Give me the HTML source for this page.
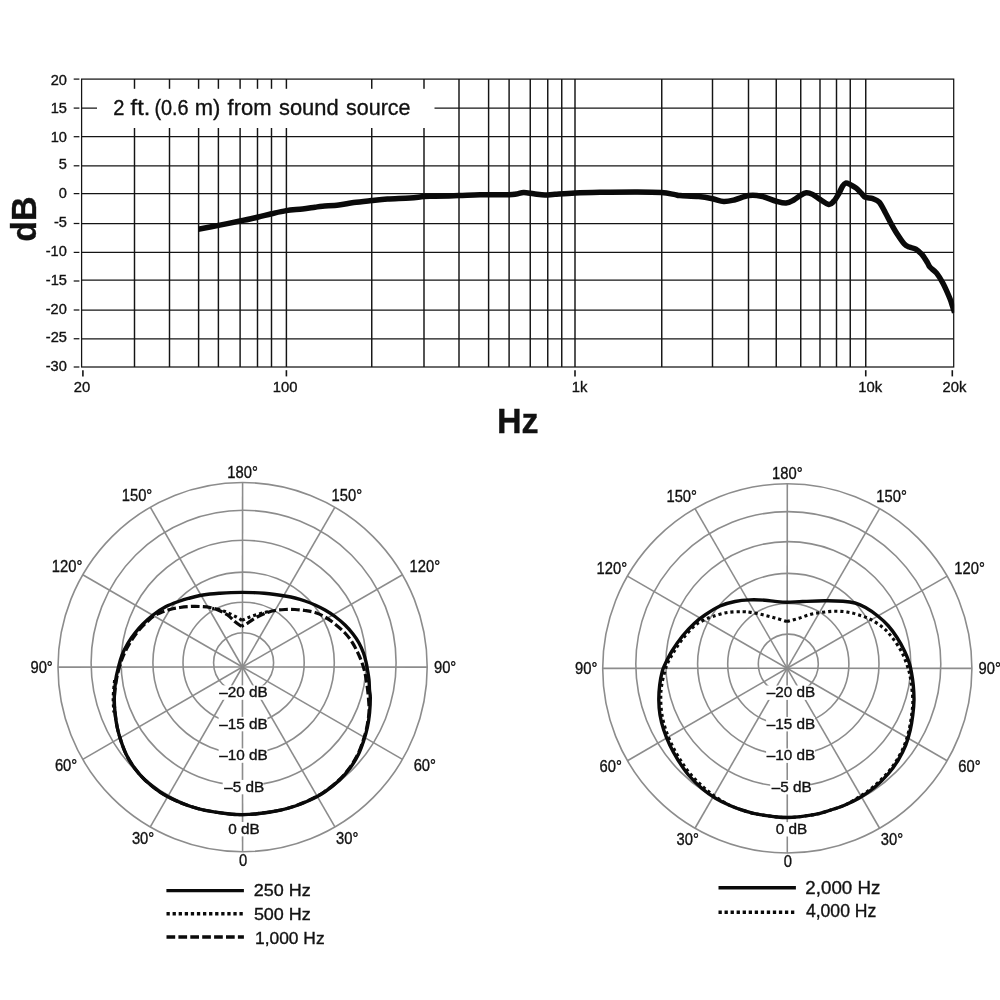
<!DOCTYPE html>
<html><head><meta charset="utf-8"><title>Frequency response and polar patterns</title>
<style>html,body{margin:0;padding:0;background:#fff}svg{display:block}text{stroke:#111;stroke-width:.35px;paint-order:stroke}</style></head>
<body><svg width="1000" height="1000" viewBox="0 0 1000 1000">
<rect width="1000" height="1000" fill="#fff"/>
<g stroke="#141414" stroke-width="1.25" fill="none">
<rect x="81.60" y="79.10" width="872.10" height="287.90"/>
<line x1="81.60" y1="108.10" x2="953.70" y2="108.10"/>
<line x1="81.60" y1="136.70" x2="953.70" y2="136.70"/>
<line x1="81.60" y1="165.80" x2="953.70" y2="165.80"/>
<line x1="81.60" y1="193.60" x2="953.70" y2="193.60"/>
<line x1="81.60" y1="223.50" x2="953.70" y2="223.50"/>
<line x1="81.60" y1="252.40" x2="953.70" y2="252.40"/>
<line x1="81.60" y1="280.00" x2="953.70" y2="280.00"/>
<line x1="81.60" y1="310.00" x2="953.70" y2="310.00"/>
<line x1="81.60" y1="338.75" x2="953.70" y2="338.75"/>
<line x1="134.50" y1="79.10" x2="134.50" y2="367.00" stroke-width="1.45"/>
<line x1="169.50" y1="79.10" x2="169.50" y2="367.00" stroke-width="1.45"/>
<line x1="198.60" y1="79.10" x2="198.60" y2="367.00" stroke-width="1.45"/>
<line x1="218.40" y1="79.10" x2="218.40" y2="367.00" stroke-width="1.45"/>
<line x1="240.10" y1="79.10" x2="240.10" y2="367.00" stroke-width="1.45"/>
<line x1="257.50" y1="79.10" x2="257.50" y2="367.00" stroke-width="1.45"/>
<line x1="271.50" y1="79.10" x2="271.50" y2="367.00" stroke-width="1.45"/>
<line x1="286.40" y1="79.10" x2="286.40" y2="367.00" stroke-width="1.45"/>
<line x1="371.75" y1="79.10" x2="371.75" y2="367.00" stroke-width="1.45"/>
<line x1="424.00" y1="79.10" x2="424.00" y2="367.00" stroke-width="1.45"/>
<line x1="459.00" y1="79.10" x2="459.00" y2="367.00" stroke-width="1.45"/>
<line x1="488.60" y1="79.10" x2="488.60" y2="367.00" stroke-width="1.45"/>
<line x1="509.10" y1="79.10" x2="509.10" y2="367.00" stroke-width="1.45"/>
<line x1="530.25" y1="79.10" x2="530.25" y2="367.00" stroke-width="1.45"/>
<line x1="547.75" y1="79.10" x2="547.75" y2="367.00" stroke-width="1.45"/>
<line x1="561.75" y1="79.10" x2="561.75" y2="367.00" stroke-width="1.45"/>
<line x1="575.00" y1="79.10" x2="575.00" y2="367.00" stroke-width="1.45"/>
<line x1="661.75" y1="79.10" x2="661.75" y2="367.00" stroke-width="1.45"/>
<line x1="712.50" y1="79.10" x2="712.50" y2="367.00" stroke-width="1.45"/>
<line x1="748.50" y1="79.10" x2="748.50" y2="367.00" stroke-width="1.45"/>
<line x1="776.25" y1="79.10" x2="776.25" y2="367.00" stroke-width="1.45"/>
<line x1="800.75" y1="79.10" x2="800.75" y2="367.00" stroke-width="1.45"/>
<line x1="820.00" y1="79.10" x2="820.00" y2="367.00" stroke-width="1.45"/>
<line x1="836.50" y1="79.10" x2="836.50" y2="367.00" stroke-width="1.45"/>
<line x1="850.25" y1="79.10" x2="850.25" y2="367.00" stroke-width="1.45"/>
<line x1="865.75" y1="79.10" x2="865.75" y2="367.00" stroke-width="1.45"/>
<line x1="73.7" y1="79.10" x2="79.4" y2="79.10"/>
<line x1="73.7" y1="108.10" x2="79.4" y2="108.10"/>
<line x1="73.7" y1="136.70" x2="79.4" y2="136.70"/>
<line x1="73.7" y1="165.80" x2="79.4" y2="165.80"/>
<line x1="73.7" y1="193.60" x2="79.4" y2="193.60"/>
<line x1="73.7" y1="223.50" x2="79.4" y2="223.50"/>
<line x1="73.7" y1="252.40" x2="79.4" y2="252.40"/>
<line x1="73.7" y1="281.00" x2="79.4" y2="281.00"/>
<line x1="73.7" y1="310.00" x2="79.4" y2="310.00"/>
<line x1="73.7" y1="338.75" x2="79.4" y2="338.75"/>
<line x1="73.7" y1="367.00" x2="79.4" y2="367.00"/>
<line x1="82.90" y1="370.2" x2="82.90" y2="376.4" stroke-width="1.6"/>
<line x1="286.40" y1="370.2" x2="286.40" y2="376.4" stroke-width="1.6"/>
<line x1="575.00" y1="370.2" x2="575.00" y2="376.4" stroke-width="1.6"/>
<line x1="865.75" y1="370.2" x2="865.75" y2="376.4" stroke-width="1.6"/>
<line x1="952.30" y1="370.2" x2="952.30" y2="376.4" stroke-width="1.6"/>
</g>
<rect x="97" y="88.8" width="337.5" height="39.2" fill="#fff"/>
<text x="113.20" y="115" font-family='"Liberation Sans", Arial, sans-serif' font-size="21.6" textLength="11.20" lengthAdjust="spacingAndGlyphs" fill="#111">2</text>
<text x="130.60" y="115" font-family='"Liberation Sans", Arial, sans-serif' font-size="21.6" textLength="19.60" lengthAdjust="spacingAndGlyphs" fill="#111">ft.</text>
<text x="154.40" y="115" font-family='"Liberation Sans", Arial, sans-serif' font-size="21.6" textLength="34.20" lengthAdjust="spacingAndGlyphs" fill="#111">(0.6</text>
<text x="194.80" y="115" font-family='"Liberation Sans", Arial, sans-serif' font-size="21.6" textLength="25.60" lengthAdjust="spacingAndGlyphs" fill="#111">m)</text>
<text x="227.60" y="115" font-family='"Liberation Sans", Arial, sans-serif' font-size="21.6" textLength="44.00" lengthAdjust="spacingAndGlyphs" fill="#111">from</text>
<text x="279.00" y="115" font-family='"Liberation Sans", Arial, sans-serif' font-size="21.6" textLength="59.60" lengthAdjust="spacingAndGlyphs" fill="#111">sound</text>
<text x="346.00" y="115" font-family='"Liberation Sans", Arial, sans-serif' font-size="21.6" textLength="64.60" lengthAdjust="spacingAndGlyphs" fill="#111">source</text>
<text transform="translate(50.64 85.40)" font-family='"Liberation Sans", Arial, sans-serif' font-size="14.60" fill="#111">20</text>
<text transform="translate(50.68 113.40)" font-family='"Liberation Sans", Arial, sans-serif' font-size="14.60" fill="#111">15</text>
<text transform="translate(50.64 141.60)" font-family='"Liberation Sans", Arial, sans-serif' font-size="14.60" fill="#111">10</text>
<text transform="translate(58.78 169.40)" font-family='"Liberation Sans", Arial, sans-serif' font-size="14.60" fill="#111">5</text>
<text transform="translate(58.74 197.90)" font-family='"Liberation Sans", Arial, sans-serif' font-size="14.60" fill="#111">0</text>
<text transform="translate(53.93 227.40)" font-family='"Liberation Sans", Arial, sans-serif' font-size="14.60" fill="#111">-5</text>
<text transform="translate(45.75 256.20)" font-family='"Liberation Sans", Arial, sans-serif' font-size="14.60" fill="#111">-10</text>
<text transform="translate(45.79 284.50)" font-family='"Liberation Sans", Arial, sans-serif' font-size="14.60" fill="#111">-15</text>
<text transform="translate(45.75 313.80)" font-family='"Liberation Sans", Arial, sans-serif' font-size="14.60" fill="#111">-20</text>
<text transform="translate(45.79 342.40)" font-family='"Liberation Sans", Arial, sans-serif' font-size="14.60" fill="#111">-25</text>
<text transform="translate(45.75 370.90)" font-family='"Liberation Sans", Arial, sans-serif' font-size="14.60" fill="#111">-30</text>
<text x="82.00" y="392.0" text-anchor="middle" font-family='"Liberation Sans", Arial, sans-serif' font-size="14.8" fill="#111">20</text>
<text x="285.20" y="392.0" text-anchor="middle" font-family='"Liberation Sans", Arial, sans-serif' font-size="14.8" fill="#111">100</text>
<text x="579.60" y="392.0" text-anchor="middle" font-family='"Liberation Sans", Arial, sans-serif' font-size="14.8" fill="#111">1k</text>
<text x="870.30" y="392.0" text-anchor="middle" font-family='"Liberation Sans", Arial, sans-serif' font-size="14.8" fill="#111">10k</text>
<text x="954.40" y="392.0" text-anchor="middle" font-family='"Liberation Sans", Arial, sans-serif' font-size="14.8" fill="#111">20k</text>
<text transform="translate(496.90 433.00) scale(0.9700 1)" font-family='"Liberation Sans", Arial, sans-serif' font-size="35.20" font-weight="bold" fill="#111">Hz</text>
<text transform="translate(35.85 219.2) rotate(-90) scale(0.97 1)" text-anchor="middle" font-family='"Liberation Sans", Arial, sans-serif' font-weight="bold" font-size="35" fill="#111">dB</text>
<clipPath id="cc"><rect x="198" y="70" width="756.20" height="310"/></clipPath>
<path d="M198.10 229.40 C201.50 228.73 211.52 226.80 218.50 225.40 C225.48 224.00 233.50 222.36 240.00 221.00 C246.50 219.64 252.25 218.46 257.50 217.25 C262.75 216.04 266.71 214.86 271.50 213.75 C276.29 212.64 281.08 211.39 286.25 210.60 C291.42 209.81 297.71 209.57 302.50 209.00 C307.29 208.43 311.67 207.66 315.00 207.20 C318.33 206.74 318.54 206.62 322.50 206.25 C326.46 205.88 333.54 205.62 338.75 205.00 C343.96 204.38 348.33 203.23 353.75 202.50 C359.17 201.77 365.62 201.17 371.25 200.60 C376.88 200.03 381.04 199.52 387.50 199.10 C393.96 198.68 403.96 198.52 410.00 198.10 C416.04 197.68 419.58 196.91 423.75 196.60 C427.92 196.29 429.17 196.42 435.00 196.25 C440.83 196.08 451.25 195.85 458.75 195.60 C466.25 195.35 471.67 194.89 480.00 194.75 C488.33 194.61 502.71 194.88 508.75 194.75 C514.79 194.62 513.75 194.38 516.25 194.00 C518.75 193.62 520.83 192.54 523.75 192.50 C526.67 192.46 530.21 193.33 533.75 193.75 C537.29 194.17 541.46 194.93 545.00 195.00 C548.54 195.07 550.00 194.55 555.00 194.20 C560.00 193.85 567.50 193.22 575.00 192.90 C582.50 192.58 589.58 192.42 600.00 192.25 C610.42 192.08 627.29 191.86 637.50 191.90 C647.71 191.94 655.00 192.05 661.25 192.50 C667.50 192.95 671.88 194.08 675.00 194.60 C678.12 195.12 676.04 195.27 680.00 195.60 C683.96 195.93 693.33 196.07 698.75 196.60 C704.17 197.12 708.33 197.93 712.50 198.75 C716.67 199.57 720.00 201.33 723.75 201.50 C727.50 201.67 730.83 200.73 735.00 199.75 C739.17 198.77 744.38 196.18 748.75 195.60 C753.12 195.02 756.67 195.31 761.25 196.25 C765.83 197.19 772.12 200.11 776.25 201.25 C780.38 202.39 783.08 203.31 786.00 203.10 C788.92 202.89 791.42 201.25 793.75 200.00 C796.08 198.75 797.92 196.81 800.00 195.60 C802.08 194.39 804.17 192.95 806.25 192.75 C808.33 192.55 810.21 193.29 812.50 194.40 C814.79 195.51 817.29 197.73 820.00 199.40 C822.71 201.07 826.46 204.09 828.75 204.40 C831.04 204.71 832.08 203.03 833.75 201.25 C835.42 199.47 837.29 196.25 838.75 193.75 C840.21 191.25 841.36 188.03 842.50 186.25 C843.64 184.47 844.35 183.41 845.60 183.10 C846.85 182.79 848.23 183.57 850.00 184.40 C851.77 185.23 854.38 186.65 856.25 188.10 C858.12 189.55 859.73 191.57 861.25 193.10 C862.77 194.63 863.48 196.37 865.40 197.30 C867.32 198.23 870.50 197.88 872.80 198.70 C875.10 199.52 877.08 199.82 879.20 202.20 C881.32 204.58 883.50 209.40 885.50 213.00 C887.50 216.60 889.17 220.17 891.20 223.80 C893.23 227.43 895.53 231.45 897.70 234.80 C899.87 238.15 902.25 241.85 904.20 243.90 C906.15 245.95 907.47 246.23 909.40 247.10 C911.33 247.97 913.65 247.80 915.80 249.10 C917.95 250.40 920.35 252.63 922.30 254.90 C924.25 257.17 926.20 260.63 927.50 262.70 C928.80 264.77 928.58 265.57 930.10 267.30 C931.62 269.03 934.43 270.40 936.60 273.10 C938.77 275.80 940.93 279.38 943.10 283.50 C945.27 287.62 948.03 294.02 949.60 297.80 C951.17 301.58 951.67 303.73 952.50 306.20 C953.33 308.67 954.25 311.53 954.60 312.60" fill="none" stroke="#0a0a0a" stroke-width="5.5" stroke-linejoin="round" clip-path="url(#cc)"/>
<g stroke="#8c8c8c" stroke-width="1.6" fill="none">
<circle cx="242.60" cy="667.10" r="184.60"/>
<circle cx="243.60" cy="662.80" r="30.00"/>
<circle cx="243.60" cy="662.80" r="60.60"/>
<circle cx="243.60" cy="662.80" r="90.70"/>
<circle cx="243.60" cy="662.80" r="122.50"/>
<circle cx="243.60" cy="662.80" r="152.50"/>
<line x1="242.40" y1="667.00" x2="427.20" y2="667.10"/>
<line x1="242.40" y1="667.00" x2="402.47" y2="759.40"/>
<line x1="242.40" y1="667.00" x2="334.90" y2="826.97"/>
<line x1="242.40" y1="667.00" x2="242.60" y2="851.70"/>
<line x1="242.40" y1="667.00" x2="150.30" y2="826.97"/>
<line x1="242.40" y1="667.00" x2="82.73" y2="759.40"/>
<line x1="242.40" y1="667.00" x2="58.00" y2="667.10"/>
<line x1="242.40" y1="667.00" x2="82.73" y2="574.80"/>
<line x1="242.40" y1="667.00" x2="150.30" y2="507.23"/>
<line x1="242.40" y1="667.00" x2="242.60" y2="482.50"/>
<line x1="242.40" y1="667.00" x2="334.90" y2="507.23"/>
<line x1="242.40" y1="667.00" x2="402.47" y2="574.80"/>
</g>
<rect x="218.40" y="685.40" width="49.20" height="14.40" fill="#fff"/>
<rect x="218.60" y="716.90" width="48.80" height="14.40" fill="#fff"/>
<rect x="218.60" y="748.40" width="48.80" height="14.40" fill="#fff"/>
<rect x="222.70" y="779.90" width="40.60" height="14.40" fill="#fff"/>
<rect x="226.80" y="822.00" width="32.40" height="14.40" fill="#fff"/>
<path d="M241.40 626.40 C240.30 625.60 237.10 623.50 234.80 621.60 C232.50 619.70 230.40 616.93 227.60 615.00 C224.80 613.07 220.93 611.25 218.00 610.00 C215.07 608.75 213.00 608.08 210.00 607.50 C207.00 606.92 203.33 606.67 200.00 606.50 C196.67 606.33 193.33 606.33 190.00 606.50 C186.67 606.67 183.33 607.00 180.00 607.50 C176.67 608.00 173.33 608.58 170.00 609.50 C166.67 610.42 162.67 611.92 160.00 613.00 C157.33 614.08 156.00 614.67 154.00 616.00 C152.00 617.33 150.33 618.83 148.00 621.00 C145.67 623.17 142.50 626.17 140.00 629.00 C137.50 631.83 135.17 634.83 133.00 638.00 C130.83 641.17 128.70 644.83 127.00 648.00 C125.30 651.17 124.07 653.83 122.80 657.00 C121.53 660.17 120.47 663.17 119.40 667.00 C118.33 670.83 117.25 674.92 116.40 680.00 C115.55 685.08 114.53 692.08 114.30 697.50 C114.07 702.92 114.51 707.50 115.00 712.50 C115.49 717.50 116.25 722.75 117.25 727.50 C118.25 732.25 119.50 736.50 121.00 741.00 C122.50 745.50 124.00 750.00 126.25 754.50 C128.50 759.00 131.38 763.75 134.50 768.00 C137.62 772.25 140.75 776.00 145.00 780.00 C149.25 784.00 155.00 788.62 160.00 792.00 C165.00 795.38 170.00 797.88 175.00 800.25 C180.00 802.62 185.00 804.58 190.00 806.25 C195.00 807.92 198.75 809.05 205.00 810.30 C211.25 811.55 221.30 813.03 227.50 813.75 C233.70 814.47 237.37 814.60 242.20 814.60 C247.03 814.60 250.37 814.47 256.50 813.75 C262.63 813.03 272.75 811.55 279.00 810.30 C285.25 809.05 289.00 807.92 294.00 806.25 C299.00 804.58 304.00 802.62 309.00 800.25 C314.00 797.88 319.00 795.38 324.00 792.00 C329.00 788.62 334.75 784.00 339.00 780.00 C343.25 776.00 346.37 772.25 349.50 768.00 C352.62 763.75 355.50 759.00 357.75 754.50 C360.00 750.00 361.50 745.50 363.00 741.00 C364.50 736.50 365.75 732.25 366.75 727.50 C367.75 722.75 368.69 717.10 369.00 712.50 C369.31 707.90 368.87 703.98 368.60 699.90 C368.33 695.82 367.85 691.65 367.40 688.00 C366.95 684.35 366.47 681.17 365.90 678.00 C365.33 674.83 364.82 672.00 364.00 669.00 C363.18 666.00 362.17 663.00 361.00 660.00 C359.83 657.00 358.50 654.00 357.00 651.00 C355.50 648.00 354.00 645.00 352.00 642.00 C350.00 639.00 347.83 636.00 345.00 633.00 C342.17 630.00 338.33 626.67 335.00 624.00 C331.67 621.33 328.33 618.92 325.00 617.00 C321.67 615.08 318.33 613.58 315.00 612.50 C311.67 611.42 308.33 611.00 305.00 610.50 C301.67 610.00 298.33 609.67 295.00 609.50 C291.67 609.33 288.33 609.33 285.00 609.50 C281.67 609.67 278.17 609.92 275.00 610.50 C271.83 611.08 269.10 611.85 266.00 613.00 C262.90 614.15 259.40 615.77 256.40 617.40 C253.40 619.03 250.50 621.30 248.00 622.80 C245.50 624.30 242.50 625.80 241.40 626.40" fill="none" stroke="#0a0a0a" stroke-width="3.2" stroke-dasharray="8.7 3.2"/>
<path d="M242.00 620.40 C241.03 619.82 238.20 618.00 236.20 616.90 C234.20 615.80 232.00 614.73 230.00 613.80 C228.00 612.87 226.20 612.05 224.20 611.30 C222.20 610.55 220.00 609.80 218.00 609.30 C216.00 608.80 213.17 608.47 212.20 608.30" fill="none" stroke="#0a0a0a" stroke-width="3.1" stroke-dasharray="3.1 2.98"/>
<path d="M242.00 620.40 C243.03 619.93 245.80 618.55 248.20 617.60 C250.60 616.65 253.73 615.53 256.40 614.70 C259.07 613.87 261.90 613.17 264.20 612.60 C266.50 612.03 269.20 611.52 270.20 611.30" fill="none" stroke="#0a0a0a" stroke-width="3.1" stroke-dasharray="3.1 2.98"/>
<path d="M114.60 680.00 C114.37 682.92 113.32 692.08 113.20 697.50 C113.08 702.92 113.78 710.00 113.90 712.50" fill="none" stroke="#0a0a0a" stroke-width="3.1" stroke-dasharray="3.1 2.98"/>
<path d="M242.20 592.40 C238.53 592.40 234.90 592.47 231.20 592.60 C227.50 592.73 223.53 592.97 220.00 593.20 C216.47 593.43 213.33 593.62 210.00 594.00 C206.67 594.38 203.33 594.83 200.00 595.50 C196.67 596.17 193.33 597.08 190.00 598.00 C186.67 598.92 184.00 599.58 180.00 601.00 C176.00 602.42 170.50 604.17 166.00 606.50 C161.50 608.83 156.83 612.08 153.00 615.00 C149.17 617.92 146.00 621.00 143.00 624.00 C140.00 627.00 137.50 629.83 135.00 633.00 C132.50 636.17 130.17 639.33 128.00 643.00 C125.83 646.67 123.58 651.00 122.00 655.00 C120.42 659.00 119.55 662.83 118.50 667.00 C117.45 671.17 116.40 674.92 115.70 680.00 C115.00 685.08 114.42 692.08 114.30 697.50 C114.18 702.92 114.51 707.50 115.00 712.50 C115.49 717.50 116.25 722.75 117.25 727.50 C118.25 732.25 119.50 736.50 121.00 741.00 C122.50 745.50 124.00 750.00 126.25 754.50 C128.50 759.00 131.38 763.75 134.50 768.00 C137.62 772.25 140.75 776.00 145.00 780.00 C149.25 784.00 155.00 788.62 160.00 792.00 C165.00 795.38 170.00 797.88 175.00 800.25 C180.00 802.62 185.00 804.58 190.00 806.25 C195.00 807.92 198.75 809.05 205.00 810.30 C211.25 811.55 221.30 813.03 227.50 813.75 C233.70 814.47 237.27 814.60 242.20 814.60 C247.13 814.60 250.87 814.47 257.10 813.75 C263.33 813.03 273.35 811.55 279.60 810.30 C285.85 809.05 289.60 807.92 294.60 806.25 C299.60 804.58 304.60 802.62 309.60 800.25 C314.60 797.88 319.60 795.38 324.60 792.00 C329.60 788.62 335.35 784.00 339.60 780.00 C343.85 776.00 346.97 772.25 350.10 768.00 C353.22 763.75 356.10 759.00 358.35 754.50 C360.60 750.00 362.10 745.50 363.60 741.00 C365.10 736.50 366.35 732.25 367.35 727.50 C368.35 722.75 369.11 717.50 369.60 712.50 C370.09 707.50 370.32 701.25 370.30 697.50 C370.28 693.75 369.72 692.92 369.50 690.00 C369.28 687.08 369.33 683.33 369.00 680.00 C368.67 676.67 368.00 673.00 367.50 670.00 C367.00 667.00 366.67 664.83 366.00 662.00 C365.33 659.17 364.67 656.17 363.50 653.00 C362.33 649.83 360.75 646.17 359.00 643.00 C357.25 639.83 355.33 637.00 353.00 634.00 C350.67 631.00 348.00 627.92 345.00 625.00 C342.00 622.08 338.33 619.00 335.00 616.50 C331.67 614.00 328.33 611.92 325.00 610.00 C321.67 608.08 318.33 606.50 315.00 605.00 C311.67 603.50 308.33 602.17 305.00 601.00 C301.67 599.83 298.33 598.83 295.00 598.00 C291.67 597.17 288.33 596.58 285.00 596.00 C281.67 595.42 278.47 594.95 275.00 594.50 C271.53 594.05 267.83 593.62 264.20 593.30 C260.57 592.98 256.87 592.75 253.20 592.60 C249.53 592.45 245.87 592.40 242.20 592.40Z" fill="none" stroke="#0a0a0a" stroke-width="3.4"/>
<text transform="translate(219.15 697.00)" font-family='"Liberation Sans", Arial, sans-serif' font-size="15.30" fill="#111">–20 dB</text>
<text transform="translate(219.15 728.50)" font-family='"Liberation Sans", Arial, sans-serif' font-size="15.30" fill="#111">–15 dB</text>
<text transform="translate(219.15 760.00)" font-family='"Liberation Sans", Arial, sans-serif' font-size="15.30" fill="#111">–10 dB</text>
<text transform="translate(224.30 791.50)" font-family='"Liberation Sans", Arial, sans-serif' font-size="15.30" fill="#111">–5 dB</text>
<text transform="translate(228.26 833.60)" font-family='"Liberation Sans", Arial, sans-serif' font-size="15.30" fill="#111">0 dB</text>
<text transform="translate(227.37 477.55) scale(0.8900 1)" font-family='"Liberation Sans", Arial, sans-serif' font-size="16.60" fill="#111">180°</text>
<text transform="translate(121.72 500.65) scale(0.8900 1)" font-family='"Liberation Sans", Arial, sans-serif' font-size="16.60" fill="#111">150°</text>
<text transform="translate(51.87 572.40) scale(0.8900 1)" font-family='"Liberation Sans", Arial, sans-serif' font-size="16.60" fill="#111">120°</text>
<text transform="translate(30.42 673.15) scale(0.8900 1)" font-family='"Liberation Sans", Arial, sans-serif' font-size="16.60" fill="#111">90°</text>
<text transform="translate(54.90 771.15) scale(0.8900 1)" font-family='"Liberation Sans", Arial, sans-serif' font-size="16.60" fill="#111">60°</text>
<text transform="translate(131.89 843.65) scale(0.8900 1)" font-family='"Liberation Sans", Arial, sans-serif' font-size="16.60" fill="#111">30°</text>
<text transform="translate(238.98 865.65) scale(0.8900 1)" font-family='"Liberation Sans", Arial, sans-serif' font-size="16.60" fill="#111">0</text>
<text transform="translate(331.62 500.65) scale(0.8900 1)" font-family='"Liberation Sans", Arial, sans-serif' font-size="16.60" fill="#111">150°</text>
<text transform="translate(409.62 572.40) scale(0.8900 1)" font-family='"Liberation Sans", Arial, sans-serif' font-size="16.60" fill="#111">120°</text>
<text transform="translate(433.92 673.15) scale(0.8900 1)" font-family='"Liberation Sans", Arial, sans-serif' font-size="16.60" fill="#111">90°</text>
<text transform="translate(413.65 770.65) scale(0.8900 1)" font-family='"Liberation Sans", Arial, sans-serif' font-size="16.60" fill="#111">60°</text>
<text transform="translate(336.09 843.65) scale(0.8900 1)" font-family='"Liberation Sans", Arial, sans-serif' font-size="16.60" fill="#111">30°</text>
<line x1="166.40" y1="890.60" x2="243.90" y2="890.60" stroke="#0a0a0a" stroke-width="3.4"/>
<text transform="translate(253.70 896.00) scale(1.0400 1)" font-family='"Liberation Sans", Arial, sans-serif' font-size="17.30" fill="#111">250 Hz</text>
<line x1="166.50" y1="913.70" x2="243.90" y2="913.70" stroke="#0a0a0a" stroke-width="3.4" stroke-dasharray="3.3 2.78"/>
<text transform="translate(253.88 919.50) scale(1.0400 1)" font-family='"Liberation Sans", Arial, sans-serif' font-size="17.30" fill="#111">500 Hz</text>
<line x1="166.50" y1="937.00" x2="243.90" y2="937.00" stroke="#0a0a0a" stroke-width="3.4" stroke-dasharray="8.7 3.2"/>
<text transform="translate(255.00 943.60)" font-family='"Liberation Sans", Arial, sans-serif' font-size="17.40" fill="#111">1,000 Hz</text>
<g stroke="#8c8c8c" stroke-width="1.6" fill="none">
<circle cx="787.30" cy="668.40" r="184.60"/>
<circle cx="788.30" cy="664.10" r="30.00"/>
<circle cx="788.30" cy="664.10" r="60.60"/>
<circle cx="788.30" cy="664.10" r="90.70"/>
<circle cx="788.30" cy="664.10" r="122.50"/>
<circle cx="788.30" cy="664.10" r="152.50"/>
<line x1="787.10" y1="668.30" x2="971.90" y2="668.40"/>
<line x1="787.10" y1="668.30" x2="947.17" y2="760.70"/>
<line x1="787.10" y1="668.30" x2="879.60" y2="828.27"/>
<line x1="787.10" y1="668.30" x2="787.30" y2="853.00"/>
<line x1="787.10" y1="668.30" x2="695.00" y2="828.27"/>
<line x1="787.10" y1="668.30" x2="627.43" y2="760.70"/>
<line x1="787.10" y1="668.30" x2="602.70" y2="668.40"/>
<line x1="787.10" y1="668.30" x2="627.43" y2="576.10"/>
<line x1="787.10" y1="668.30" x2="695.00" y2="508.53"/>
<line x1="787.10" y1="668.30" x2="787.30" y2="483.80"/>
<line x1="787.10" y1="668.30" x2="879.60" y2="508.53"/>
<line x1="787.10" y1="668.30" x2="947.17" y2="576.10"/>
</g>
<rect x="765.90" y="685.50" width="49.20" height="14.40" fill="#fff"/>
<rect x="766.10" y="717.00" width="48.80" height="14.40" fill="#fff"/>
<rect x="766.10" y="748.50" width="48.80" height="14.40" fill="#fff"/>
<rect x="770.20" y="780.00" width="40.60" height="14.40" fill="#fff"/>
<rect x="774.30" y="822.10" width="32.40" height="14.40" fill="#fff"/>
<path d="M787.00 621.60 C785.00 620.98 779.00 619.03 775.00 617.90 C771.00 616.77 767.00 615.72 763.00 614.80 C759.00 613.88 754.42 612.92 751.00 612.40 C747.58 611.88 746.42 611.68 742.50 611.70 C738.58 611.72 732.50 611.70 727.50 612.50 C722.50 613.30 716.75 615.08 712.50 616.50 C708.25 617.92 705.00 619.45 702.00 621.00 C699.00 622.55 697.75 622.80 694.50 625.80 C691.25 628.80 686.00 634.55 682.50 639.00 C679.00 643.45 676.17 648.00 673.50 652.50 C670.83 657.00 668.47 660.54 666.50 666.00 C664.53 671.46 662.64 679.57 661.69 685.23 C660.74 690.90 660.75 695.08 660.80 700.00 C660.85 704.92 661.17 709.84 661.99 714.76 C662.80 719.69 664.09 724.61 665.69 729.53 C667.30 734.44 669.27 739.36 671.62 744.28 C673.96 749.20 676.67 754.12 679.75 759.03 C682.83 763.95 686.15 769.12 690.09 773.79 C694.03 778.46 699.02 783.15 703.38 787.05 C707.74 790.96 711.73 794.09 716.26 797.20 C720.78 800.31 725.73 803.41 730.52 805.71 C735.31 808.01 740.09 809.52 745.00 811.00 C749.91 812.48 753.00 813.52 760.00 814.60 C767.00 815.68 778.00 817.50 787.00 817.50 C796.00 817.50 806.83 815.81 814.00 814.60 C821.17 813.39 824.84 811.86 830.00 810.25 C835.16 808.64 840.04 807.15 844.95 804.91 C849.87 802.67 854.62 799.95 859.49 796.82 C864.35 793.70 869.47 790.16 874.14 786.16 C878.82 782.15 883.69 777.25 887.53 772.80 C891.37 768.34 894.34 764.14 897.19 759.43 C900.04 754.73 902.65 749.53 904.63 744.58 C906.61 739.62 907.92 734.67 909.08 729.72 C910.25 724.76 910.99 719.81 911.61 714.86 C912.23 709.91 913.00 706.14 912.80 700.00 C912.60 693.86 911.40 683.95 910.40 678.00 C909.40 672.05 908.38 668.87 906.80 664.30 C905.22 659.73 903.40 655.15 900.90 650.60 C898.40 646.05 894.85 640.88 891.80 637.00 C888.75 633.12 886.23 630.27 882.60 627.30 C878.97 624.33 874.10 621.30 870.00 619.20 C865.90 617.10 861.83 615.90 858.00 614.70 C854.17 613.50 850.83 612.58 847.00 612.00 C843.17 611.42 839.00 611.17 835.00 611.20 C831.00 611.23 827.00 611.70 823.00 612.20 C819.00 612.70 815.00 613.20 811.00 614.20 C807.00 615.20 803.00 616.97 799.00 618.20 C795.00 619.43 789.00 621.03 787.00 621.60" fill="none" stroke="#0a0a0a" stroke-width="3.1" stroke-dasharray="3.1 2.98"/>
<path d="M787.00 602.25 C782.42 602.23 778.67 601.74 775.00 601.40 C771.33 601.06 769.17 600.45 765.00 600.20 C760.83 599.95 755.00 599.68 750.00 599.90 C745.00 600.12 740.00 600.48 735.00 601.50 C730.00 602.52 725.00 603.75 720.00 606.00 C715.00 608.25 709.25 612.12 705.00 615.00 C700.75 617.88 698.25 619.75 694.50 623.25 C690.75 626.75 686.25 631.38 682.50 636.00 C678.75 640.62 674.88 646.33 672.00 651.00 C669.12 655.67 666.83 660.58 665.20 664.00 C663.58 667.42 663.17 668.00 662.25 671.50 C661.33 675.00 660.28 680.25 659.70 685.00 C659.12 689.75 658.75 695.00 658.80 700.00 C658.85 705.00 659.17 710.00 660.00 715.00 C660.83 720.00 662.12 725.00 663.75 730.00 C665.38 735.00 667.38 740.00 669.75 745.00 C672.12 750.00 674.88 755.00 678.00 760.00 C681.12 765.00 684.50 770.25 688.50 775.00 C692.50 779.75 697.50 784.62 702.00 788.50 C706.50 792.38 710.75 795.38 715.50 798.25 C720.25 801.12 725.58 803.62 730.50 805.75 C735.42 807.88 740.08 809.52 745.00 811.00 C749.92 812.48 753.00 813.52 760.00 814.60 C767.00 815.68 778.00 817.50 787.00 817.50 C796.00 817.50 806.83 815.81 814.00 814.60 C821.17 813.39 824.83 811.85 830.00 810.25 C835.17 808.65 840.00 807.12 845.00 805.00 C850.00 802.88 855.00 800.50 860.00 797.50 C865.00 794.50 870.25 791.00 875.00 787.00 C879.75 783.00 884.62 778.00 888.50 773.50 C892.38 769.00 895.38 764.75 898.25 760.00 C901.12 755.25 903.75 750.00 905.75 745.00 C907.75 740.00 909.08 735.00 910.25 730.00 C911.42 725.00 912.17 720.00 912.80 715.00 C913.42 710.00 913.92 705.00 914.00 700.00 C914.08 695.00 913.68 689.67 913.25 685.00 C912.82 680.33 912.06 675.67 911.40 672.00 C910.74 668.33 910.45 666.50 909.30 663.00 C908.15 659.50 906.55 655.25 904.50 651.00 C902.45 646.75 899.75 641.75 897.00 637.50 C894.25 633.25 891.25 629.12 888.00 625.50 C884.75 621.88 881.25 618.75 877.50 615.75 C873.75 612.75 869.25 609.62 865.50 607.50 C861.75 605.38 858.75 604.05 855.00 603.00 C851.25 601.95 848.00 601.58 843.00 601.20 C838.00 600.83 831.75 600.70 825.00 600.75 C818.25 600.80 808.83 601.25 802.50 601.50 C796.17 601.75 791.58 602.27 787.00 602.25Z" fill="none" stroke="#0a0a0a" stroke-width="3.4"/>
<text transform="translate(766.65 697.10)" font-family='"Liberation Sans", Arial, sans-serif' font-size="15.30" fill="#111">–20 dB</text>
<text transform="translate(766.65 728.60)" font-family='"Liberation Sans", Arial, sans-serif' font-size="15.30" fill="#111">–15 dB</text>
<text transform="translate(766.65 760.10)" font-family='"Liberation Sans", Arial, sans-serif' font-size="15.30" fill="#111">–10 dB</text>
<text transform="translate(771.80 791.60)" font-family='"Liberation Sans", Arial, sans-serif' font-size="15.30" fill="#111">–5 dB</text>
<text transform="translate(775.76 833.70)" font-family='"Liberation Sans", Arial, sans-serif' font-size="15.30" fill="#111">0 dB</text>
<text transform="translate(772.07 478.85) scale(0.8900 1)" font-family='"Liberation Sans", Arial, sans-serif' font-size="16.60" fill="#111">180°</text>
<text transform="translate(666.42 501.95) scale(0.8900 1)" font-family='"Liberation Sans", Arial, sans-serif' font-size="16.60" fill="#111">150°</text>
<text transform="translate(596.57 573.70) scale(0.8900 1)" font-family='"Liberation Sans", Arial, sans-serif' font-size="16.60" fill="#111">120°</text>
<text transform="translate(575.12 674.45) scale(0.8900 1)" font-family='"Liberation Sans", Arial, sans-serif' font-size="16.60" fill="#111">90°</text>
<text transform="translate(599.60 772.45) scale(0.8900 1)" font-family='"Liberation Sans", Arial, sans-serif' font-size="16.60" fill="#111">60°</text>
<text transform="translate(676.59 844.95) scale(0.8900 1)" font-family='"Liberation Sans", Arial, sans-serif' font-size="16.60" fill="#111">30°</text>
<text transform="translate(783.68 866.95) scale(0.8900 1)" font-family='"Liberation Sans", Arial, sans-serif' font-size="16.60" fill="#111">0</text>
<text transform="translate(876.32 501.95) scale(0.8900 1)" font-family='"Liberation Sans", Arial, sans-serif' font-size="16.60" fill="#111">150°</text>
<text transform="translate(954.32 573.70) scale(0.8900 1)" font-family='"Liberation Sans", Arial, sans-serif' font-size="16.60" fill="#111">120°</text>
<text transform="translate(978.62 674.45) scale(0.8900 1)" font-family='"Liberation Sans", Arial, sans-serif' font-size="16.60" fill="#111">90°</text>
<text transform="translate(958.35 771.95) scale(0.8900 1)" font-family='"Liberation Sans", Arial, sans-serif' font-size="16.60" fill="#111">60°</text>
<text transform="translate(880.79 844.95) scale(0.8900 1)" font-family='"Liberation Sans", Arial, sans-serif' font-size="16.60" fill="#111">30°</text>
<line x1="718.50" y1="887.70" x2="795.90" y2="887.70" stroke="#0a0a0a" stroke-width="3.4"/>
<text transform="translate(805.36 893.50) scale(1.0400 1)" font-family='"Liberation Sans", Arial, sans-serif' font-size="18.00" fill="#111">2,000 Hz</text>
<line x1="718.50" y1="912.20" x2="795.90" y2="912.20" stroke="#0a0a0a" stroke-width="3.4" stroke-dasharray="3.3 2.74"/>
<text transform="translate(805.90 916.80)" font-family='"Liberation Sans", Arial, sans-serif' font-size="17.60" fill="#111">4,000 Hz</text>
</svg></body></html>
